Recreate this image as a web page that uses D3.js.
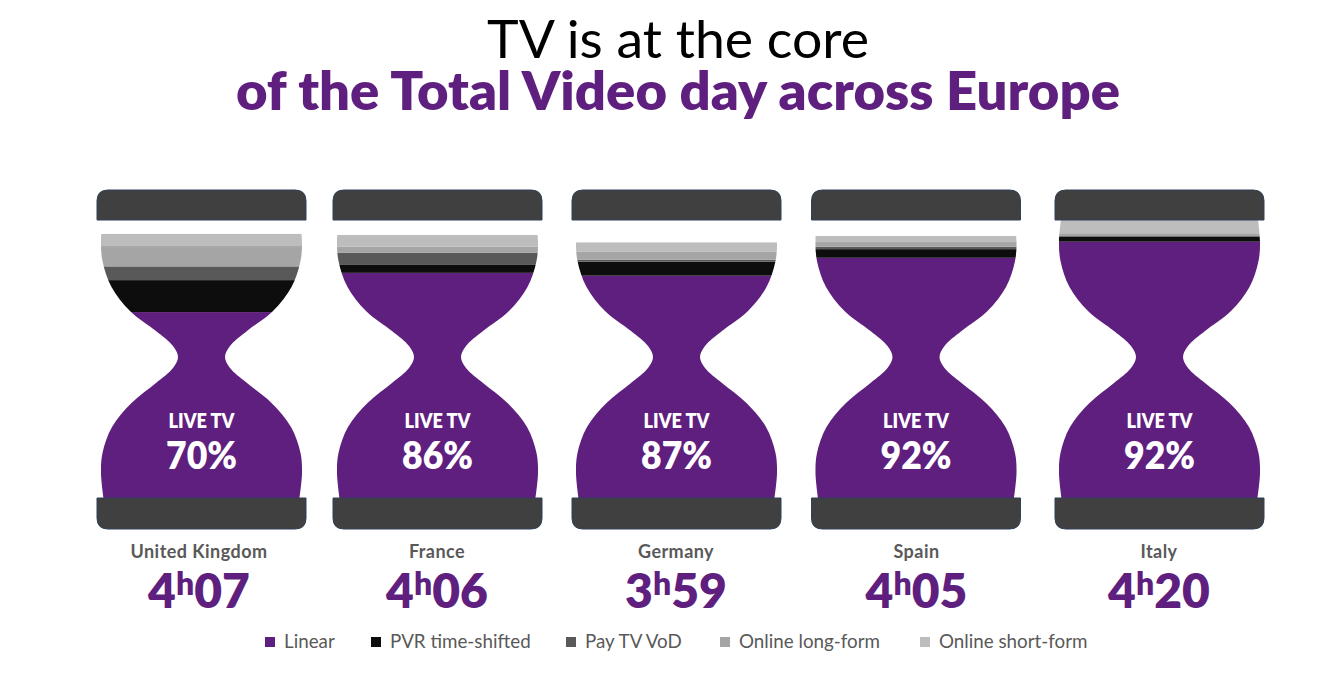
<!DOCTYPE html>
<html><head><meta charset="utf-8">
<script src="https://cdn.jsdelivr.net/npm/d3@7/dist/d3.min.js"></script>
<style>html,body{margin:0;padding:0;background:#fff}svg{display:block}text{font-family:Lato,"Open Sans",sans-serif}</style>
</head><body><svg id="c" width="1322" height="678"></svg>
<script>
const countries = ["United Kingdom","France","Germany","Spain","Italy"];
const minutes = [247,246,239,245,260];
const linear = [70.4,85.6,87,91.7,92.2];
const pvr = [12.1,3,5.5,3.3,1.8];
const payVod = [5.2,4.7,0.7,0.9,0.25];
const onlineLong = [7.7,2.3,3.3,1.8,1];
const onlineShort = [4.6,4.4,3.5,2.3,4.75];
const seriesNames = ["Linear","PVR time-shifted","Pay TV VoD","Online long-form","Online short-form"];
const seriesColors = ["#5f1f7f","#0d0d0d","#595959","#a5a5a5","#bdbdbd"];
const centers = [201.5,437.5,676.5,916,1159.5];
const captionCenters = [199,437,676,916.5,1159];
const legendSquares = [265,371,566,720,920];
const profile = [[-141,98],[-116,100.5],[-96,99],[-70,90],[-46,71.5],[-26,45.5],[-11,28.5],[0,23.5],[11,28.5],[26,45.5],[46,70],[70,89.5],[96,99],[116,100.5],[141,98]];

const svg = d3.select("#c");
const purple = seriesColors[0];
const x = d3.scaleOrdinal(countries, centers);
const capX = d3.scaleOrdinal(countries, captionCenters);
const y = d3.scaleLinear([0,260],[498,220]);
const neck = 357;

const rows = countries.map((c,i)=>({country:c,minutes:minutes[i],
  "Linear":linear[i],"PVR time-shifted":pvr[i],"Pay TV VoD":payVod[i],"Online long-form":onlineLong[i],"Online short-form":onlineShort[i]}));
const layers = d3.stack().keys(seriesNames)(rows);

const glass = cx => d3.area().curve(d3.curveCatmullRom.alpha(0.5))
  .y(d=>neck+d[0]).x0(d=>cx-d[1]).x1(d=>cx+d[1])(profile);

const defs = svg.append("defs");
rows.forEach((r,i)=>defs.append("clipPath").attr("id","g"+i).append("path").attr("d",glass(x(r.country))));

const capPath = (cx,top,h,roundTop)=>{
  const w=104.5,r=11,l=cx-w,R=cx+w,b=top+h;
  return roundTop
   ? `M${l},${b}V${top+r}Q${l},${top} ${l+r},${top}H${R-r}Q${R},${top} ${R},${top+r}V${b}Z`
   : `M${l},${top}H${R}V${b-r}Q${R},${b} ${R-r},${b}H${l+r}Q${l},${b} ${l},${b-r}Z`;
};

rows.forEach((r,i)=>{
  const cx=x(r.country), tx=capX(r.country);
  const g=svg.append("g");
  const bands=g.append("g").attr("clip-path",`url(#g${i})`);
  layers.forEach((layer,k)=>{
    const d=layer[i], scale=r.minutes/100;
    const y0=y(d[0]*scale), y1=y(d[1]*scale);
    bands.append("rect").attr("x",cx-102).attr("width",204).attr("y",y1).attr("height",y0-y1).attr("fill",seriesColors[k]);
  });
  g.append("path").attr("d",capPath(cx,190,30,true)).attr("fill","#404040").attr("stroke","#2f4058").attr("stroke-width",1);
  g.append("path").attr("d",capPath(cx,498,31,false)).attr("fill","#404040").attr("stroke","#2f4058").attr("stroke-width",1);
  g.append("text").attr("x",cx).attr("y",428).attr("text-anchor","middle").attr("fill","#fff").attr("font-size",21).attr("font-weight",800)
    .attr("textLength",66).attr("lengthAdjust","spacingAndGlyphs").text("LIVE TV");
  g.append("text").attr("x",cx).attr("y",469).attr("text-anchor","middle").attr("fill","#fff").attr("font-size",38).attr("font-weight",800)
    .attr("textLength",71).attr("lengthAdjust","spacingAndGlyphs").text(d3.format(".0f")(linear[i])+"%");
  g.append("text").attr("x",tx).attr("y",558).attr("text-anchor","middle").attr("fill","#595959").attr("font-size",18).attr("font-weight",700).attr("letter-spacing",0.45).text(r.country);
  const t=g.append("text").attr("x",tx).attr("y",608).attr("text-anchor","middle").attr("fill",purple).attr("font-size",48).attr("font-weight",800);
  t.append("tspan").text(Math.floor(r.minutes/60));
  t.append("tspan").attr("font-size",32).attr("dy",-13).text("h");
  t.append("tspan").attr("dy",13).text(d3.format("02")(r.minutes%60));
});

svg.append("text").attr("x",678).attr("y",58).attr("text-anchor","middle").attr("font-size",52).attr("font-weight",400).attr("fill","#000")
  .attr("textLength",382).attr("lengthAdjust","spacingAndGlyphs").text("TV is at the core");
svg.append("text").attr("x",678).attr("y",110).attr("text-anchor","middle").attr("font-size",52).attr("font-weight",800).attr("fill",purple)
  .attr("textLength",884).attr("lengthAdjust","spacingAndGlyphs").text("of the Total Video day across Europe");

const leg=svg.append("g").selectAll("g").data(seriesNames).join("g");
leg.append("rect").attr("x",(d,i)=>legendSquares[i]).attr("y",637).attr("width",10).attr("height",10).attr("fill",(d,i)=>seriesColors[i]);
leg.append("text").attr("x",(d,i)=>legendSquares[i]+19).attr("y",648).attr("font-size",18.8).attr("fill","#595959").text(d=>d);
</script></body></html>
